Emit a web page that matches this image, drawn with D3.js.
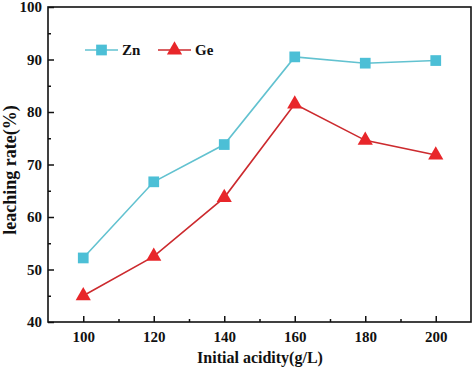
<!DOCTYPE html>
<meta charset="utf-8">
<style>
  body { margin: 0; background: #fff; }
  svg { display: block; }
  text { font-family: "Liberation Serif", "Times New Roman", serif; font-weight: bold; fill: #111; }
</style>
<svg width="474" height="370"></svg>
<script src="https://cdn.jsdelivr.net/npm/d3@7"></script>
<script>

// data
var acidity = [100, 120, 140, 160, 180, 200];
var zn = [52.2, 66.7, 73.8, 90.5, 89.3, 89.8];
var ge = [45.0, 52.5, 63.7, 81.5, 74.6, 71.8];
var xTicks = [100, 120, 140, 160, 180, 200];
var yTicks = [40, 50, 60, 70, 80, 90, 100];

var svg = d3.select("svg"),
    margin = {top: 7, right: 3, bottom: 48, left: 48},
    width = +svg.attr("width") - margin.left - margin.right,
    height = +svg.attr("height") - margin.top - margin.bottom,
    g = svg.append("g").attr("transform", "translate(" + margin.left + "," + margin.top + ")");

var x = d3.scaleLinear().domain([90, 210]).range([0, width]);
var y = d3.scaleLinear().domain([40, 100]).range([height, 0]);

var series = [
  {name: "Zn", values: zn, line: "#62c2d0", fill: "#4cbfd6", shape: d3.symbolSquare, size: 115},
  {name: "Ge", values: ge, line: "#cc2a2e", fill: "#e8262a", shape: d3.symbolTriangle, size: 100}
];

/*
 * Axes: ticks point inward, minor ticks between the labelled ones.
 */
g.append("g")
    .attr("transform", "translate(0," + height + ")")
    .call(d3.axisBottom(x).tickValues(xTicks).tickSizeInner(-6).tickSizeOuter(0).tickPadding(9));
g.append("g")
    .attr("transform", "translate(0," + height + ")")
    .call(d3.axisBottom(x).tickValues(d3.range(110, 210, 20)).tickSize(-3).tickFormat(""));

g.append("g")
    .call(d3.axisLeft(y).tickValues(yTicks).tickSizeInner(-6).tickSizeOuter(0).tickPadding(6));
g.append("g")
    .call(d3.axisLeft(y).tickValues(d3.range(45, 100, 10)).tickSize(-3).tickFormat(""));

g.selectAll(".domain").remove();
g.selectAll(".tick line").attr("stroke", "#111").attr("stroke-width", 1.5);
g.selectAll(".tick text").style("font-size", "15px").style("fill", "#111");

// frame
g.append("rect")
    .attr("width", width)
    .attr("height", height)
    .attr("fill", "none")
    .attr("stroke", "#111")
    .attr("stroke-width", 1.6);

/*
 * Lines and markers.
 */
var line = d3.line()
    .x(function(d, i) { return x(acidity[i]); })
    .y(function(d) { return y(d); });

series.forEach(function(s) {
  g.append("path")
      .datum(s.values)
      .attr("fill", "none")
      .attr("stroke", s.line)
      .attr("stroke-width", 1.6)
      .attr("d", line);

  g.selectAll(null)
      .data(s.values)
      .enter().append("path")
      .attr("transform", function(d, i) { return "translate(" + x(acidity[i]) + "," + y(d) + ")"; })
      .attr("d", d3.symbol().type(s.shape).size(s.size))
      .attr("fill", s.fill);
});

/*
 * Legend.
 */
var legendPos = [{x: 37, y: 43}, {x: 110, y: 43}];
series.forEach(function(s, i) {
  var lg = g.append("g").attr("transform", "translate(" + legendPos[i].x + "," + legendPos[i].y + ")");
  lg.append("line")
      .attr("x1", 0).attr("x2", 33)
      .attr("stroke", s.line)
      .attr("stroke-width", 1.6);
  lg.append("path")
      .attr("transform", "translate(16.5,0)")
      .attr("d", d3.symbol().type(s.shape).size(s.size))
      .attr("fill", s.fill);
  lg.append("text")
      .attr("x", 37)
      .attr("dy", "0.35em")
      .style("font-size", "15px")
      .text(s.name);
});

/*
 * Axis titles.
 */
svg.append("text")
    .attr("text-anchor", "middle")
    .attr("x", 260)
    .attr("y", 363)
    .style("font-size", "16px")
    .text("Initial acidity(g/L)");

svg.append("text")
    .attr("text-anchor", "middle")
    .attr("transform", "translate(16,170)rotate(-90)")
    .style("font-size", "18px")
    .text("leaching rate(%)");
</script>
